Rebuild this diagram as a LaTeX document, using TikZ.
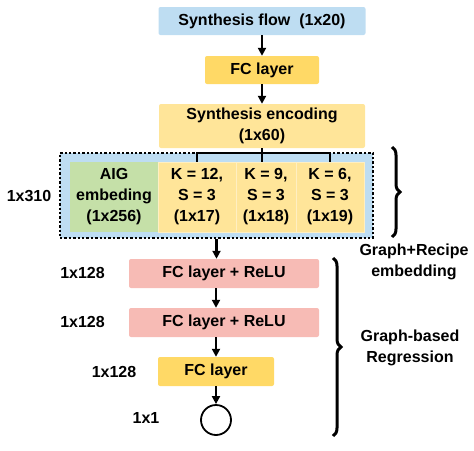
\documentclass[tikz,border=0pt]{standalone}
\usepackage{fontspec}
\setmainfont{Liberation Sans}
\usepackage{tikz}
\usetikzlibrary{arrows.meta,positioning,decorations.pathreplacing}
\definecolor{flowblue}{RGB}{190,221,242}
\definecolor{fcgold}{RGB}{255,217,102}
\definecolor{encyellow}{RGB}{255,229,153}
\definecolor{aiggreen}{RGB}{197,224,168}
\definecolor{relupink}{RGB}{247,187,181}

\begin{document}
\begin{tikzpicture}[x=1pt,y=-1pt,
		every node/.style={inner sep=0pt,align=center,font=\fontsize{16}{21}\selectfont\bfseries},
		box/.style={rectangle,rounded corners=2pt,minimum height=29pt},
		cell/.style={rectangle,minimum height=70pt},
		arr/.style={-{Triangle[length=8pt,width=8pt]},line width=2.2pt},
		tree/.style={line width=2.4pt},
		brc/.style={decorate,decoration={brace,amplitude=8pt},line width=3pt}]
		\useasboundingbox (0,0) rectangle (474,450);

		\node[box,fill=flowblue,minimum width=207pt,minimum height=28pt] (flow) at (262,21) {Synthesis flow\ \ (1x20)};
		\node[box,fill=fcgold,minimum width=114pt,minimum height=28pt] (fc0) at (262,70) {FC layer};
		\node[box,fill=encyellow,minimum width=206pt,minimum height=44pt] (enc) at (262,126) {Synthesis encoding\\(1x60)};

		\node[rectangle,fill=flowblue,draw=black,dotted,line width=2.4pt,minimum width=313pt,minimum height=85pt] (grp) at (216.5,195.5) {};
		\node[cell,fill=aiggreen,minimum width=88pt] (aig) at (114,197) {AIG\\embeding\\(1x256)};
		\node[cell,fill=encyellow,draw=encyellow!60!white,line width=0.5pt,minimum width=78pt] (k1) at (197,197) {K = 12,\\S = 3\\(1x17)};
		\node[cell,fill=encyellow,draw=encyellow!60!white,line width=0.5pt,minimum width=60pt] (k2) at (266,197) {K = 9,\\S = 3\\(1x18)};
		\node[cell,fill=encyellow,draw=encyellow!60!white,line width=0.5pt,minimum width=68pt] (k3) at (330,197) {K = 6,\\S = 3\\(1x19)};
		\coordinate (bar) at (262,153);

		\node[box,fill=relupink,minimum width=190pt] (rl1) at (224,273.5) {FC layer + ReLU};
		\node[box,fill=relupink,minimum width=190pt] (rl2) at (224,322.5) {FC layer + ReLU};
		\node[box,fill=fcgold,minimum width=116pt] (fc1) at (216,371.5) {FC layer};
		\node[circle,draw,line width=1.8pt,minimum size=30pt] (out) at (216,420) {};

		\node (l310) at (29,196) {1x310};
		\node (l128a) at (82.5,273) {1x128};
		\node (l128b) at (82.5,322) {1x128};
		\node (l128c) at (114,372) {1x128};
		\node (l1) at (146,418) {1x1};
		\node (emb) at (414,262) {Graph+Recipe\\embedding};
		\node (reg) at (410,348) {Graph-based\\Regression};

		\draw[arr] (flow) -- (fc0);
		\draw[arr] (fc0) -- (enc);
		\draw[tree] (enc.south) -- (bar);
		\draw[tree] (k1.north) |- (bar) -| (k3.north);
		\draw[tree] (bar) -- (bar |- k2.north);
		\draw[arr] (grp.south) -- (grp.south |- rl1.north);
		\draw[arr] (rl1.south -| out) -- (rl2.north -| out);
		\draw[arr] (rl2.south -| out) -- (fc1.north);
		\draw[arr] (fc1) -- (out);

		\draw[brc] (392,147) -- (392,237);
		\draw[brc] (333,258) -- (333,436);
	\end{tikzpicture}
\end{document}
